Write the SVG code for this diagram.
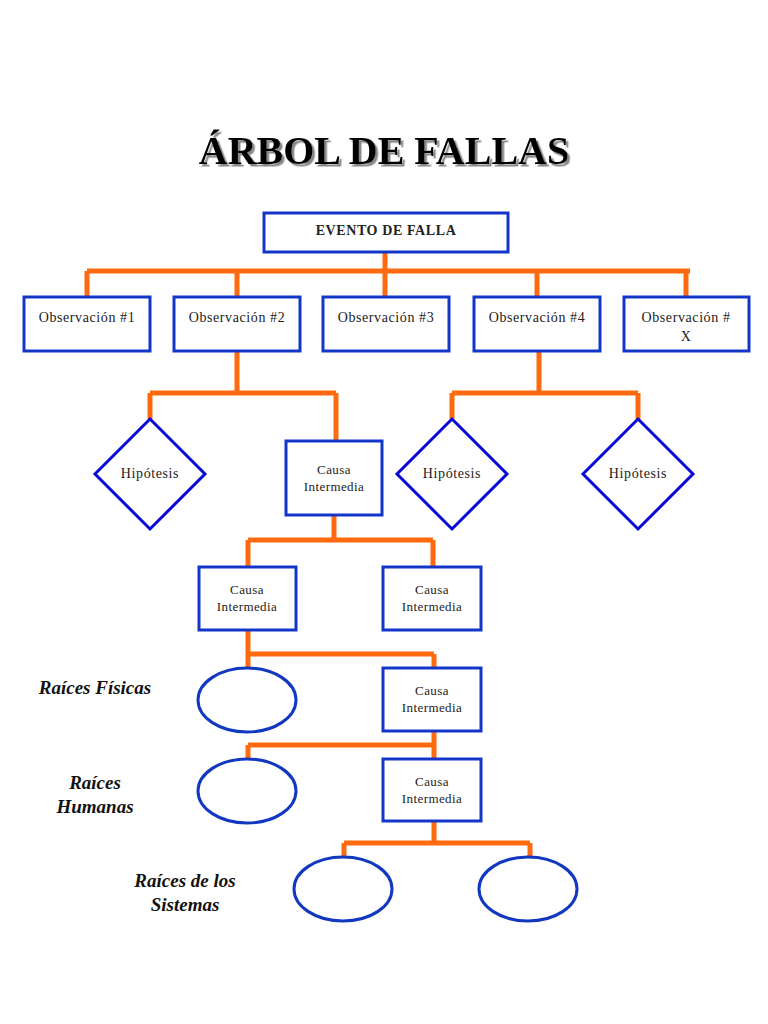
<svg xmlns="http://www.w3.org/2000/svg" width="768" height="1024" viewBox="0 0 768 1024">
<style>
.box{fill:#fff;stroke:#1236c8;stroke-width:3}
.dia{fill:#fff;stroke:#0a0ad8;stroke-width:3}
.ell{fill:#fff;stroke:#1238c0;stroke-width:3}
.ln{fill:none;stroke:#ff6a10;stroke-width:5}
.t{font-family:"Liberation Serif","Times New Roman",serif;font-size:14px;letter-spacing:0.6px;fill:#222;text-anchor:middle}
.ts{font-family:"Liberation Serif","Times New Roman",serif;font-size:13px;letter-spacing:0.4px;fill:#222;text-anchor:middle}
.th{font-family:"Liberation Serif","Times New Roman",serif;font-size:14px;letter-spacing:0.6px;fill:#222;text-anchor:middle}
.lab{font-family:"Liberation Serif","Times New Roman",serif;font-size:19px;font-weight:bold;font-style:italic;fill:#111;text-anchor:middle}
.title{font-family:"Liberation Serif","Times New Roman",serif;font-size:40px;font-weight:bold;text-anchor:middle;fill:#000}
</style>
<defs>
<filter id="sh" x="-10%" y="-30%" width="120%" height="160%">
<feDropShadow dx="2.5" dy="2.5" stdDeviation="0.6" flood-color="#888" flood-opacity="1"/>
</filter>
</defs>
<rect width="768" height="1024" fill="#fff"/>
<g id="title">
<text class="title" x="384" y="164" filter="url(#sh)">ÁRBOL DE FALLAS</text>
</g>
<g id="connectors">
<path class="ln" d="M385 252V297M87 271H690M87 271V297M237 271V297M537 271V297M686 271V297"/>
<path class="ln" d="M237 351V393M150 393H336M150 393V419M336 393V441"/>
<path class="ln" d="M539 351V393M452 393H638M452 393V419M638 393V419"/>
<path class="ln" d="M334 515V540M248 540H433M248 540V567M433 540V567"/>
<path class="ln" d="M248 630V654M248 654H434M248 654V669M434 654V668"/>
<path class="ln" d="M434 731V745M248 745H434M248 745V760M434 745V759"/>
<path class="ln" d="M434 821V843M344 843H530M344 843V857M530 843V857"/>
</g>
<g id="evento"><rect class="box" x="264" y="213" width="244" height="39"/><text class="t" x="386" y="235" font-weight="bold" letter-spacing="0" fill="#000">EVENTO DE FALLA</text></g>
<g id="obs1"><rect class="box" x="24" y="297" width="126" height="54"/><text class="t" x="87" y="322">Observación #1</text></g>
<g id="obs2"><rect class="box" x="174" y="297" width="126" height="54"/><text class="t" x="237" y="322">Observación #2</text></g>
<g id="obs3"><rect class="box" x="323" y="297" width="126" height="54"/><text class="t" x="386" y="322">Observación #3</text></g>
<g id="obs4"><rect class="box" x="474" y="297" width="126" height="54"/><text class="t" x="537" y="322">Observación #4</text></g>
<g id="obsx"><rect class="box" x="624" y="297" width="125" height="54"/><text class="t" x="686" y="322">Observación #</text><text class="t" x="686" y="341">X</text></g>
<g id="hip1"><polygon class="dia" points="150,419 205,474 150,529 95,474"/><text class="th" x="150" y="478">Hipótesis</text></g>
<g id="causa1"><rect class="box" x="286" y="441" width="96" height="74"/><text class="ts" x="334" y="474">Causa</text><text class="ts" x="334" y="491">Intermedia</text></g>
<g id="hip2"><polygon class="dia" points="452,419 507,474 452,529 397,474"/><text class="th" x="452" y="478">Hipótesis</text></g>
<g id="hip3"><polygon class="dia" points="638,419 693,474 638,529 583,474"/><text class="th" x="638" y="478">Hipótesis</text></g>
<g id="causa2"><rect class="box" x="199" y="567" width="97" height="63"/><text class="ts" x="247" y="594">Causa</text><text class="ts" x="247" y="611">Intermedia</text></g>
<g id="causa3"><rect class="box" x="383" y="567" width="98" height="63"/><text class="ts" x="432" y="594">Causa</text><text class="ts" x="432" y="611">Intermedia</text></g>
<g id="raiz1"><ellipse class="ell" cx="247" cy="700" rx="49" ry="32"/></g>
<g id="causa4"><rect class="box" x="383" y="668" width="98" height="63"/><text class="ts" x="432" y="695">Causa</text><text class="ts" x="432" y="712">Intermedia</text></g>
<g id="raiz2"><ellipse class="ell" cx="247" cy="791" rx="49" ry="32"/></g>
<g id="causa5"><rect class="box" x="383" y="759" width="98" height="62"/><text class="ts" x="432" y="786">Causa</text><text class="ts" x="432" y="803">Intermedia</text></g>
<g id="raiz3"><ellipse class="ell" cx="343" cy="889" rx="49" ry="32"/></g>
<g id="raiz4"><ellipse class="ell" cx="528" cy="889" rx="49" ry="32"/></g>
<g id="labels">
<text class="lab" x="95" y="694">Raíces Físicas</text>
<text class="lab" x="95" y="789">Raíces</text>
<text class="lab" x="95" y="813">Humanas</text>
<text class="lab" x="185" y="887">Raíces de los</text>
<text class="lab" x="185" y="911">Sistemas</text>
</g>
</svg>
